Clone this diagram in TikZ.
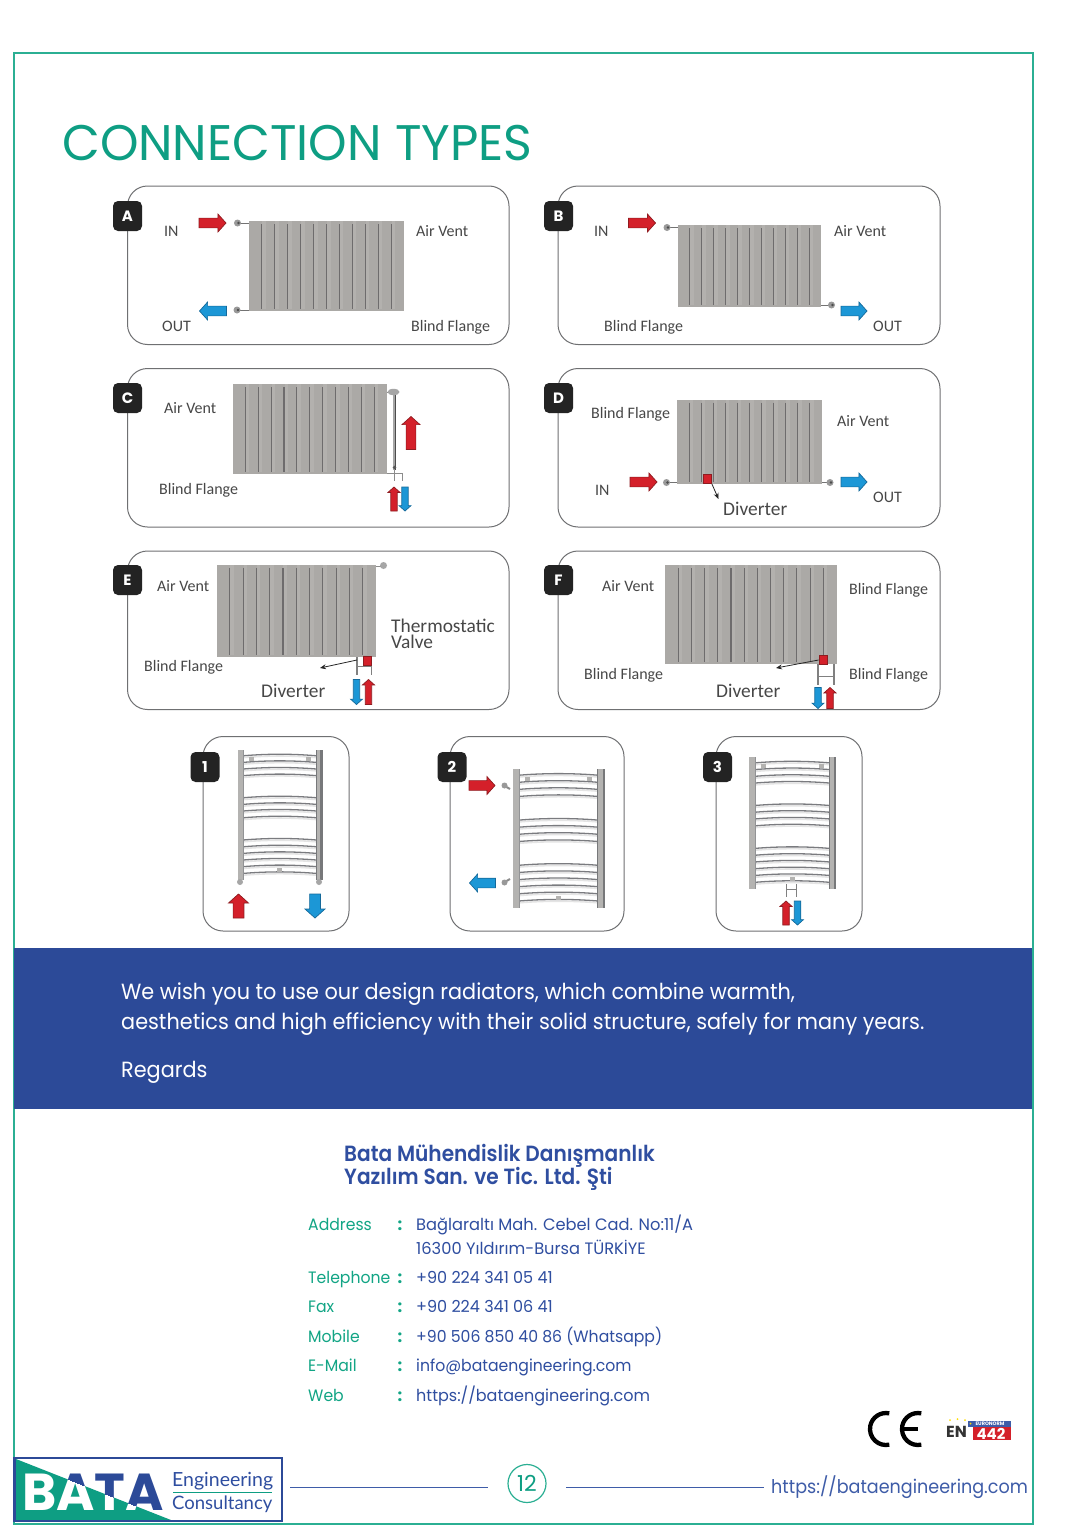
\documentclass[tikz,border=0pt]{standalone}
\usepackage{fontspec}
\setmainfont{Poppins}
\newfontfamily\calib{Carlito}
\newfontfamily\logof{Lato}
\newfontfamily\popt[FakeStretch=0.98]{Poppins}
\newfontfamily\popb[FakeStretch=0.945]{Poppins}
\newfontfamily\popc[FakeStretch=0.95]{Poppins}
\newfontfamily\popd[FakeStretch=0.985]{Poppins}
\newfontfamily\pope[FakeStretch=0.97]{Poppins}
\newfontfamily\popu[FakeStretch=0.93]{Poppins}
\newfontfamily\popco[FakeStretch=0.915]{Poppins SemiBold}
\usetikzlibrary{arrows.meta}
\definecolor{frameg}{HTML}{2BAF93}
\definecolor{titleg}{HTML}{0E9E83}
\definecolor{labelg}{HTML}{12A585}
\definecolor{bandb}{HTML}{2C4A98}
\definecolor{textb}{HTML}{2F4EA0}
\definecolor{linkb}{HTML}{3E5CA8}
\definecolor{finbase}{HTML}{ABA9A6}
\definecolor{findark}{HTML}{6E6C6D}
\definecolor{finlight}{HTML}{B3B1AE}
\definecolor{arrred}{HTML}{D4202A}
\definecolor{arrredd}{HTML}{8F1C20}
\definecolor{arrblue}{HTML}{1C97D6}
\definecolor{arrblued}{HTML}{14699A}
\definecolor{panelline}{HTML}{6F7072}
\definecolor{badgek}{HTML}{232323}
\definecolor{railc}{HTML}{B4B3B1}
\definecolor{raild}{HTML}{77787A}
\definecolor{barc}{HTML}{7A7B7F}
\definecolor{barl}{HTML}{E4E4E4}
\newcommand{\fsz}[1]{\fontsize{#1}{#1}\selectfont}
\tikzset{
  panelbox/.style={draw=panelline,line width=1pt,fill=white,rounded corners=20pt},
  badgebox/.style={fill=badgek,rounded corners=5pt},
  badgetext/.style={text=white,font=\bfseries\fsz{15},anchor=center,inner sep=0pt},
  radlabel/.style={anchor=base west,inner sep=0pt,text=black!72,font=\calib\fsz{16}},
  bigl/.style={anchor=base west,inner sep=0pt,text=black!72,font=\calib\fsz{19.4}},
  contactl/.style={anchor=base west,inner sep=0pt,text=labelg,font=\popc\fsz{16.5}},
  contactc/.style={anchor=base west,inner sep=0pt,text=labelg,font=\bfseries\fsz{16.5}},
  contactv/.style={anchor=base west,inner sep=0pt,text=textb,font=\popc\fsz{16.5}},
  contactw/.style={contactv,font=\popd\fsz{16.5}},
  contactx/.style={contactv,font=\pope\fsz{16.5}},
  redsq/.style={draw=arrredd,fill=arrred,line width=0.8pt,inner sep=0pt,minimum width=8pt,minimum height=9pt},
  divarrow/.style={draw=black!85,line width=0.8pt,-{Stealth[length=6pt,width=5pt]}}
}
\newcommand{\panel}[7]{%
  \draw[panelbox] (#1,#2) rectangle (#3,#4);
  \fill[badgebox] (#6,#7) rectangle ++(29,30);
  \node[badgetext] (badge#5) at (#6+14.5,#7+15) {#5};
}
\newcommand{\radiator}[5]{%
  \fill[finbase] (#1,#2) rectangle (#3,#4);
  \foreach \i in {1,...,#5}{
    \pgfmathsetmacro{\fx}{#1+(#3-#1)*\i/(#5+1)}
    \fill[finlight] (\fx+0.5,#2) rectangle (\fx+4,#4-2);
    \draw[findark,line width=1.1pt] (\fx,#2+3) -- (\fx,#4-2);
  }
}
\newcommand{\barrow}[7]{%
  \begin{scope}[shift={(#1,#2)},rotate=#3,x=1pt,y=1pt]
    \pgfmathsetmacro{\hl}{#4/2}\pgfmathsetmacro{\hw}{#5/2}\pgfmathsetmacro{\sw}{#5*0.27}\pgfmathsetmacro{\nk}{#4/2-#5*0.45}
    \draw[fill=#6,draw=#7,line width=0.7pt,line join=miter]
      (-\hl,-\sw) -- (\nk,-\sw) -- (\nk,-\hw) -- (\hl,0) -- (\nk,\hw) -- (\nk,\sw) -- (-\hl,\sw) -- cycle;
  \end{scope}
}
\newcommand{\redr}[3]{\barrow{#1}{#2}{0}{#3}{18}{arrred}{arrredd}}
\newcommand{\bluer}[3]{\barrow{#1}{#2}{0}{#3}{18}{arrblue}{arrblued}}
\newcommand{\bluel}[3]{\barrow{#1}{#2}{180}{#3}{18}{arrblue}{arrblued}}
\newcommand{\redu}[4]{\barrow{#1}{#2}{90}{#3}{#4}{arrred}{arrredd}}
\newcommand{\blued}[4]{\barrow{#1}{#2}{-90}{#3}{#4}{arrblue}{arrblued}}
\newcommand{\valve}[3]{%
  \draw[black!55,line width=1pt] (#1,#2) -- (#3,#2);
  \fill[black!40] (#1,#2) circle (3.5pt);
  \fill[black!70] (#1+1,#2) circle (1.3pt);
}
% towel rail: left rail x1 x2, right rail x3 x4, y1 y2
\newcommand{\towel}[6]{%
  \foreach \f in {.044,.095,.146,.197,.367,.418,.469,.521,.692,.744,.795,.846,.897,.949}{
    \pgfmathsetmacro{\by}{#5+(#6-#5)*\f}
    \draw[barl,line width=1.6pt] (#2,\by+1.8) .. controls (#2+25,\by-0.2) and (#3-25,\by-0.2) .. (#3,\by+1.8);
    \draw[barc,line width=1.3pt] (#2,\by) .. controls (#2+25,\by-2) and (#3-25,\by-2) .. (#3,\by);
  }
  \fill[railc] (#1,#5) rectangle (#2,#6);
  \fill[railc] (#3,#5) rectangle (#4,#6);
  \fill[raild] (#4-2.2,#5) rectangle (#4,#6);
  \fill[raild] (#3+0.2,#5) rectangle (#3+0.9,#6);
  \fill[raild!80] (#2-1,#5) rectangle (#2,#6);
  \pgfmathsetmacro{\ty}{#5+(#6-#5)*.07}
  \fill[railc] (#2+5,\ty-2) rectangle (#2+10,\ty+2);
  \fill[railc] (#3-10,\ty-2) rectangle (#3-5,\ty+2);
  \pgfmathsetmacro{\ly}{#5+(#6-#5)*.925}
  \fill[railc] (#2/2+#3/2-2.5,\ly-2) rectangle (#2/2+#3/2+2.5,\ly+2);
}
\begin{document}
\begin{tikzpicture}[x=1pt,y=-1pt]
\useasboundingbox (0,0) rectangle (1086,1536);
\fill[white] (0,0) rectangle (1086,1536);
\draw[frameg,line width=1.5pt] (14,53) rectangle (1033,1524);
\node[anchor=base west,inner sep=0pt,text=titleg,font=\popt\fsz{50}] (title) at (62,160.5) {CONNECTION TYPES};

% --- Panels
\panel{127.5}{186}{509}{344.5}{A}{113}{201}
\panel{558}{186}{940}{344.5}{B}{544}{201}
\panel{127.5}{368.5}{509}{527}{C}{113}{383}
\panel{558}{368.5}{940}{527}{D}{544}{383}
\panel{127.5}{551}{509}{709.5}{E}{113}{565}
\panel{558}{551}{940}{709.5}{F}{544}{565}

% A
\radiator{249}{221}{404}{311}{11}
\valve{237.5}{223}{249}\valve{237}{310}{249}
\redr{212.5}{223}{27}\bluel{213}{311}{27}
\node[radlabel] (ain) at (164,236) {IN};
\node[radlabel] (aout) at (162,331) {OUT};
\node[radlabel] (aav) at (416,236.5) {Air Vent};
\node[radlabel] (abf) at (411,331) {Blind Flange};
% B
\radiator{678}{225}{821}{307}{11}
\valve{667}{227.5}{678}\valve{831.5}{305}{821}
\redr{642}{223}{27}\bluer{854}{311}{26}
\node[radlabel] (bin) at (594,236) {IN};
\node[radlabel] (bav) at (834,236.5) {Air Vent};
\node[radlabel] (bbf) at (604,331) {Blind Flange};
\node[radlabel] (bout) at (873,331) {OUT};
% C
\radiator{232.5}{384}{387}{474}{11}
\draw[black!35,line width=1.6pt] (394,392) -- (394,470);
\draw[black!70,line width=1pt] (395.5,392) -- (395.5,470);
\draw[black!45,line width=1pt] (387,392) -- (392,392);
\fill[black!35] (393.5,392) ellipse (6pt and 3.2pt);
\fill[black!65] (394.5,467.5) circle (1.8pt);
\draw[black!45,line width=1pt] (387,473.5) -- (402,473.5) -- (402,481);
\draw[black!45,line width=1pt] (394.5,470) -- (394.5,481);
\redu{411}{433}{33}{18}
\redu{394}{499}{24}{12}
\blued{405}{499}{24}{12}
\node[radlabel] (cav) at (164,413) {Air Vent};
\node[radlabel] (cbf) at (159,494) {Blind Flange};
% D
\radiator{677}{399.5}{822}{483.5}{11}
\valve{666.5}{482.5}{677}\valve{830}{482.5}{822}
\redr{643.5}{482}{27}\bluer{854}{482}{26}
\node[redsq] (dsq) at (707.5,479) {};
\coordinate (dend) at (718.5,499);
\draw[divarrow] (dsq.south east) -- (dend);
\node[radlabel] (dbf) at (591,418.5) {Blind Flange};
\node[radlabel] (dav) at (837,426.5) {Air Vent};
\node[radlabel] (din) at (595,495.5) {IN};
\node[radlabel] (dout) at (873,502) {OUT};
\node[bigl] (ddv) at (723,515.5) {Diverter};
% E
\radiator{216.5}{564.5}{376}{656.5}{11}
\draw[black!45,line width=1pt] (376,566) -- (381,566);
\fill[black!35] (383.5,565.5) circle (3.5pt);
\draw[black!50,line width=1.2pt] (357,657) -- (357,675);
\draw[black!50,line width=1.2pt] (371.5,657) -- (371.5,675);
\draw[black!50,line width=1pt] (357,666) -- (371.5,666);
\node[redsq] (esq) at (367,660.5) {};
\coordinate (eend) at (320,668);
\draw[divarrow] (357,660) -- (eend);
\blued{356.5}{692}{25}{12}
\redu{368.5}{692}{25}{12}
\node[radlabel] (eav) at (157,591.5) {Air Vent};
\node[radlabel] (ebf) at (144,671) {Blind Flange};
\node[bigl] (edv) at (261,697) {Diverter};
\node[inner sep=0pt,anchor=north west,align=left,text=black!72,font=\calib\fontsize{19.4}{16}\selectfont] (eth) at (391,618.5) {Thermostatic\\Valve};
% F
\radiator{665}{565}{836.5}{664}{12}
\draw[black!50,line width=1.2pt] (818,664) -- (818,685);
\draw[black!50,line width=1.2pt] (834,664) -- (834,685);
\draw[black!50,line width=1pt] (818,676) -- (834,676);
\node[redsq] (fsq) at (823,660) {};
\coordinate (fend) at (776,668);
\draw[divarrow] (fsq.west) -- (fend);
\blued{818}{698}{21}{12}
\redu{830}{698}{21}{12}
\node[radlabel] (fav) at (602,591.5) {Air Vent};
\node[radlabel] (fbf1) at (849,594) {Blind Flange};
\node[radlabel] (fbf2) at (584,679) {Blind Flange};
\node[radlabel] (fbf3) at (849,679) {Blind Flange};
\node[bigl] (fdv) at (716,697) {Diverter};

% --- Towel rails
\panel{203}{736.5}{349}{931}{1}{190.5}{752}
\towel{237.5}{243.5}{316}{322.5}{750}{880}
\fill[black!35] (240,882) circle (3pt);\fill[black!35] (319,882) circle (3pt);
\barrow{238.5}{906}{90}{24}{20}{arrred}{arrredd}
\barrow{315}{906}{-90}{24}{20}{arrblue}{arrblued}

\panel{450}{736.5}{624}{931}{2}{437.5}{752}
\towel{513}{520}{597}{605}{769}{908}
\draw[black!45,line width=2pt] (503,785) -- (510,789);
\fill[black!40] (504.5,785.5) circle (3pt);
\draw[black!45,line width=2pt] (503,883) -- (510,879);
\fill[black!40] (504.5,882.5) circle (3pt);
\redr{482}{785.5}{26}\bluel{482.5}{883}{26}

\panel{716}{736.5}{862}{931}{3}{703}{752}
\towel{748.5}{755.5}{829}{836}{757}{889}
\draw[black!50,line width=1.2pt] (786.5,884) -- (786.5,897);
\draw[black!50,line width=1.2pt] (796.5,884) -- (796.5,897);
\draw[black!50,line width=1pt] (786.5,889) -- (796.5,889);
\redu{786}{913}{24}{12}
\blued{797.5}{913}{24}{12}

% --- Band
\fill[bandb] (14,948) rectangle (1032,1108.5);
\node[anchor=base west,inner sep=0pt,text=white,font=\popb\fsz{22}] (b1) at (121,999) {We wish you to use our design radiators, which combine warmth,};
\node[anchor=base west,inner sep=0pt,text=white,font=\popb\fsz{22}] (b2) at (121,1029) {aesthetics and high efficiency with their solid structure, safely for many years.};
\node[anchor=base west,inner sep=0pt,text=white,font=\popb\fsz{22}] (b3) at (121,1077) {Regards};

% --- Company
\node[anchor=base west,inner sep=0pt,text=textb,font=\popco\fsz{22}] (co1) at (344,1161) {Bata Mühendislik Danışmanlık};
\node[anchor=base west,inner sep=0pt,text=textb,font=\popco\fsz{22}] (co2) at (344,1184) {Yazılım San. ve Tic. Ltd. Şti};
\node[contactl] (l1) at (308,1230) {Address};
\node[contactl] (l2) at (308,1283) {Telephone};
\node[contactl] (l3) at (308,1312) {Fax};
\node[contactl] (l4) at (308,1342) {Mobile};
\node[contactl] (l5) at (308,1371) {E-Mail};
\node[contactl] (l6) at (308,1401) {Web};
\node[contactc] (c1) at (397.5,1230) {:};
\node[contactc] (c2) at (397.5,1283) {:};
\node[contactc] (c3) at (397.5,1312) {:};
\node[contactc] (c4) at (397.5,1342) {:};
\node[contactc] (c5) at (397.5,1371) {:};
\node[contactc] (c6) at (397.5,1401) {:};
\node[contactw] (v1) at (416,1230) {Bağlaraltı Mah. Cebel Cad. No:11/A};
\node[contactw] (v1b) at (416,1254) {16300 Yıldırım-Bursa TÜRKİYE};
\node[contactx] (v2) at (416,1283) {+90 224 341 05 41};
\node[contactx] (v3) at (416,1312) {+90 224 341 06 41};
\node[contactv] (v4) at (416,1342) {+90 506 850 40 86 (Whatsapp)};
\node[contactv] (v5) at (416,1371) {info@bataengineering.com};
\node[contactx] (v6) at (416,1401) {https://bataengineering.com};

% --- CE mark
\draw[black,line width=4.3pt] (889.3,1413.35) arc[start angle=-78,end angle=-282,radius=16];
\draw[black,line width=4.3pt] (921.3,1413.35) arc[start angle=-78,end angle=-282,radius=16];
\draw[black,line width=3.6pt] (903,1429) -- (918,1429);

% --- EN 442
\node[anchor=base west,inner sep=0pt,text=black!80,font=\bfseries\fsz{16}] (en) at (946,1437) {EN};
\fill[arrred] (972.5,1426.5) rectangle (1010.5,1440);
\fill[linkb] (968,1421) rectangle (1010.5,1426.5);
\node[inner sep=0pt,text=white,font=\bfseries\fsz{5}] (euro) at (990,1424) {EURONORM};
\node[inner sep=0pt,text=white,font=\bfseries\fsz{15}] (n442) at (991,1433.5) {442};
\fill[yellow!80!orange] (950,1420) circle (1pt) (957.5,1419) circle (1pt) (965,1420) circle (1pt) (970.5,1423.5) circle (1pt);

% --- Footer
\fill[titleg] (16,1459) -- (171,1520) -- (16,1520) -- cycle;
\begin{scope}
  \clip (16,1459) -- (171,1520) -- (16,1520) -- cycle;
  \node[anchor=base west,inner sep=0pt,text=white,font=\bfseries\fsz{52}] (logoa) at (22,1510) {BATA};
\end{scope}
\begin{scope}
  \clip (16,1459) -- (171,1520) -- (282,1520) -- (282,1459) -- cycle;
  \node[anchor=base west,inner sep=0pt,text=bandb,font=\bfseries\fsz{52}] (logob) at (22,1510) {BATA};
\end{scope}
\draw[bandb,line width=2.5pt] (14.5,1458) rectangle (282,1521);
\node[anchor=base west,inner sep=0pt,text=textb,font=\logof\fsz{19.5}] (eng) at (172,1486) {Engineering};
\draw[titleg,line width=1pt] (173,1492.5) -- (272,1492.5);
\node[anchor=base west,inner sep=0pt,text=textb,font=\logof\fsz{18.5}] (cons) at (172,1509) {Consultancy};
\node[circle,draw=frameg,line width=1.2pt,minimum size=38pt,inner sep=0pt,text=titleg,font=\fsz{22}] (pg) at (527,1483.5) {12};
\coordinate (fl1) at (290,1487);\coordinate (fl2) at (488,1487);
\coordinate (fr1) at (566,1487);\coordinate (fr2) at (764,1487);
\draw[linkb,line width=1pt] (fl1) -- (fl2);
\draw[linkb,line width=1pt] (fr1) -- (fr2);
\node[anchor=base west,inner sep=0pt,text=linkb,font=\popu\fsz{18.9}] (url) at (771,1493.5) {https://bataengineering.com};
\end{tikzpicture}
\end{document}
